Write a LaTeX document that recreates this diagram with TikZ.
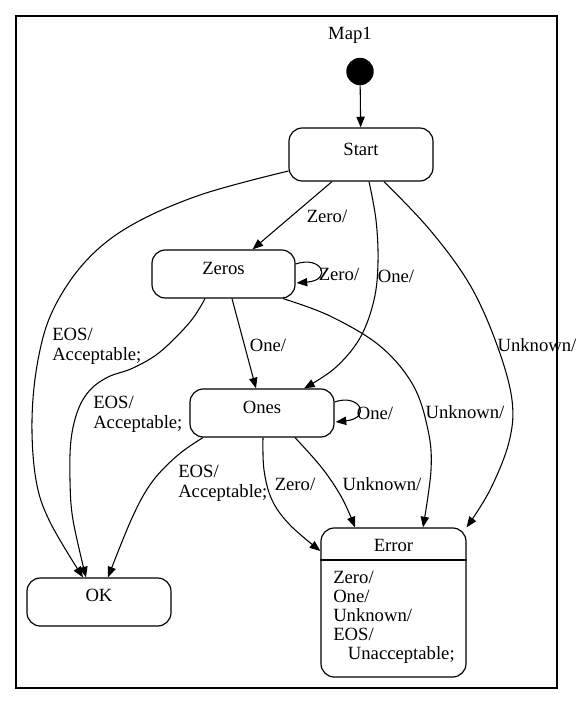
\documentclass[tikz,border=0pt]{standalone}
\usepackage{fontspec}
\setmainfont{Liberation Serif}
\usetikzlibrary{arrows.meta}
\begin{document}
\begin{tikzpicture}[x=0.75pt,y=-0.75pt,
  every node/.style={font=\fontsize{14}{15}\selectfont},
  state/.style={draw,line width=0.9pt,rounded corners=10pt,inner sep=0pt},
  txt/.style={inner sep=0pt},
  lbl/.style={inner sep=0pt,align=left,anchor=north west},
  edge/.style={line width=0.8pt,-{Triangle[length=8pt,width=6.2pt]}},
]
\useasboundingbox (0,0) rectangle (583,715);
\draw[line width=0.8pt] (16,16) rectangle (557,688);
\node[txt,anchor=base] (title) at (350,39.5) {Map1};

\node[circle,fill=black,inner sep=0pt,minimum size=27.4*0.75pt] (init) at (360,71.5) {};
\node[state,minimum width=144*0.75pt,minimum height=53*0.75pt] (start) at (361,154.5) {};
\node[txt] (starttxt) at (361,149) {Start};
\node[state,minimum width=143*0.75pt,minimum height=48*0.75pt] (zeros) at (223.5,274) {};
\node[txt] (zerostxt) at (223.5,268) {Zeros};
\node[state,minimum width=144*0.75pt,minimum height=48*0.75pt] (ones) at (262,413) {};
\node[txt] (onestxt) at (262,407) {Ones};
\node[state,minimum width=144*0.75pt,minimum height=48*0.75pt] (ok) at (99,602) {};
\node[txt] (oktxt) at (99,595) {OK};
\node[state,minimum width=145*0.75pt,minimum height=149*0.75pt] (error) at (393.5,602.5) {};
\node[txt] (errortxt) at (393.5,545) {Error};
\draw[line width=0.9pt] (error.west |- 0,560) -- (error.east |- 0,560);
\node[inner sep=0pt,align=left,anchor=north west,font=\fontsize{14}{14.2}\selectfont] (errbody) at (333,571)
  {Zero/\\One/\\Unknown/\\EOS/\\\hspace*{11pt}Unacceptable;};

% edges
\draw[edge] (init) -- (start);
\draw[edge] ([shift={(-29,0)}]start.south) -- ([shift={(29,0)}]zeros.north);
\draw[edge] ([shift={(0,-10)}]zeros.east) .. controls (322,255) and (333,280) .. ([shift={(1,9)}]zeros.east);
\draw[edge] plot[smooth,tension=0.6] coordinates {([shift={(8,0)}]start.south) (376,220) (378,262) (374,300) (360,338) (335,368) ([shift={(42,0)}]ones.north)};
\draw[edge] plot[smooth,tension=0.6] coordinates {([shift={(23,0)}]start.south) (430,230) (470,285) (497,345) (512,400) (509,442) (490,490) (error.north east)};
\draw[edge] plot[smooth,tension=0.6] coordinates {([shift={(0,16.5)}]start.west) (200,195) (130,226) (85,262) (53,310) (38,360) (32,420) (36,480) (50,522) ([shift={(-16,0)}]ok.north)};
\draw[edge] plot[smooth,tension=0.6] coordinates {([shift={(-18.5,0)}]zeros.south) (190,322) (160,352) (133,368) (108,377) (90,390) (78,410) (71,440) (70,480) (73,520) ([shift={(-13,0)}]ok.north)};
\draw[edge] ([shift={(8.5,0)}]zeros.south) -- ([shift={(-6,0)}]ones.north);
\draw[edge] plot[smooth,tension=0.6] coordinates {([shift={(59.5,0)}]zeros.south) (330,316) (380,346) (413,385) (428,430) (431,470) ([shift={(29.5,0)}]error.north)};
\draw[edge] ([shift={(0,-11)}]ones.east) .. controls (360,393) and (372,418) .. ([shift={(1,9)}]ones.east);
\draw[edge] plot[smooth,tension=0.6] coordinates {([shift={(-59,0)}]ones.south) (178,455) (152,482) (132,518) ([shift={(9,0)}]ok.north)};
\draw[edge] plot[smooth,tension=0.6] coordinates {([shift={(1,0)}]ones.south) (264,470) (272,500) (290,525) ([shift={(0,-51.5)}]error.west)};
\draw[edge] plot[smooth,tension=0.6] coordinates {([shift={(33,0)}]ones.south) (322,468) (342,498) ([shift={(-38.5,0)}]error.north)};

% labels
\node[txt] (l1) at (327,216) {Zero/};
\node[txt] (l2) at (339,274) {Zero/};
\node[txt] (l3) at (396,276) {One/};
\node[txt] (l4) at (537,345) {Unknown/};
\node[lbl] (l5) at (52,328) {EOS/\\Acceptable;};
\node[lbl] (l6) at (93,396) {EOS/\\Acceptable;};
\node[txt] (l7) at (268,345) {One/};
\node[txt] (l8) at (465,412) {Unknown/};
\node[txt] (l9) at (375,413) {One/};
\node[lbl] (l10) at (178,465) {EOS/\\Acceptable;};
\node[txt] (l11) at (295,484) {Zero/};
\node[txt] (l12) at (382,484) {Unknown/};
\end{tikzpicture}
\end{document}
